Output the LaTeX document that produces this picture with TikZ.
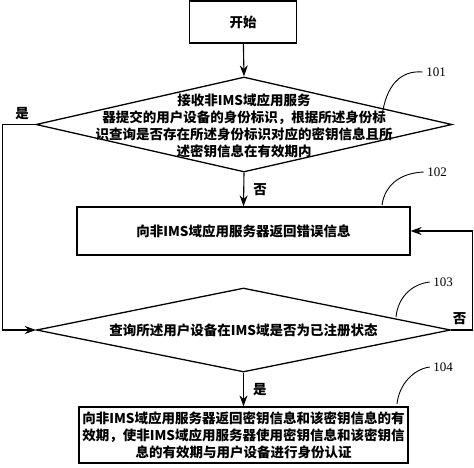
\documentclass[tikz,border=0pt]{standalone}
\usepackage{fontspec}
\setmainfont{Liberation Serif}
\newfontfamily\cjk{Noto Sans CJK SC}
\usetikzlibrary{shapes.geometric,arrows.meta}
\tikzset{
  box/.style={draw,line width=1.3pt,inner sep=0pt},
  dia/.style={draw,diamond,line width=1.3pt,inner sep=0pt},
  txt/.style={font=\cjk\bfseries\fontsize{13.5}{17}\selectfont,align=center,inner sep=0pt},
  arr/.style={-{Stealth[length=11pt,width=8pt]},line width=1.1pt},
  lead/.style={line width=0.9pt},
  num/.style={font=\fontsize{13}{15}\selectfont}
}
\def\leader#1#2#3#4{\draw[lead] #1 .. controls #2 and #3 .. #4;}

\begin{document}
\begin{tikzpicture}[x=1pt,y=-1pt]
\useasboundingbox (0,0) rectangle (474,467);
% boxes and decisions
\node[box,txt,minimum width=107pt,minimum height=42pt] (start) at (243,22) {开始};
\node[dia,minimum width=416pt,minimum height=95pt] (q1) at (244,124.5) {};
\node[txt] (q1t) at (244,125.5) {接收非IMS域应用服务\\器提交的用户设备的身份标识，根据所述身份标\\识查询是否存在所述身份标识对应的密钥信息且所\\述密钥信息在有效期内};
\node[box,txt,minimum width=333pt,minimum height=48pt] (err) at (243.5,231) {向非IMS域应用服务器返回错误信息};
\node[dia,minimum width=414pt,minimum height=84pt] (q2) at (243.5,330) {};
\node[txt] (q2t) at (q2) {查询所述用户设备在IMS域是否为已注册状态};
\node[box,txt,minimum width=329pt,minimum height=56pt] (ok) at (243.5,435) {向非IMS域应用服务器返回密钥信息和该密钥信息的有\\效期，使非IMS域应用服务器使用密钥信息和该密钥信\\息的有效期与用户设备进行身份认证};
% connectors
\draw[arr] (start) -- (q1.north);
\draw[arr] (q1.south) -- node[txt,right=9pt,pos=0.5] (no1) {否} (err.north);
\draw[arr] (q1.west) -- node[txt,above=4pt,pos=0.4] (yes1) {是} ++(-33,0) |- (q2.west);
\draw[arr] (q2.east) -- node[txt,above=5pt,pos=0.4] (no2) {否} ++(21,0) |- (err.east);
\draw[arr] (q2.south) -- node[txt,right=9pt,pos=0.5] (yes2) {是} (ok.north);
% step numbers
\node[num] (n101) at (436,72) {101};
\node[num] (n102) at (437,172) {102};
\node[num] (n103) at (443,282) {103};
\node[num] (n104) at (443,367) {104};
\leader{(382,116)}{(386,86)}{(400,70)}{(n101.west)}
\leader{(382,205)}{(385,185)}{(400,173)}{(n102.west)}
\leader{(396,317)}{(398,297)}{(412,284)}{(n103.west)}
\leader{(397,404)}{(399,384)}{(414,369)}{(n104.west)}
\end{tikzpicture}
\end{document}
